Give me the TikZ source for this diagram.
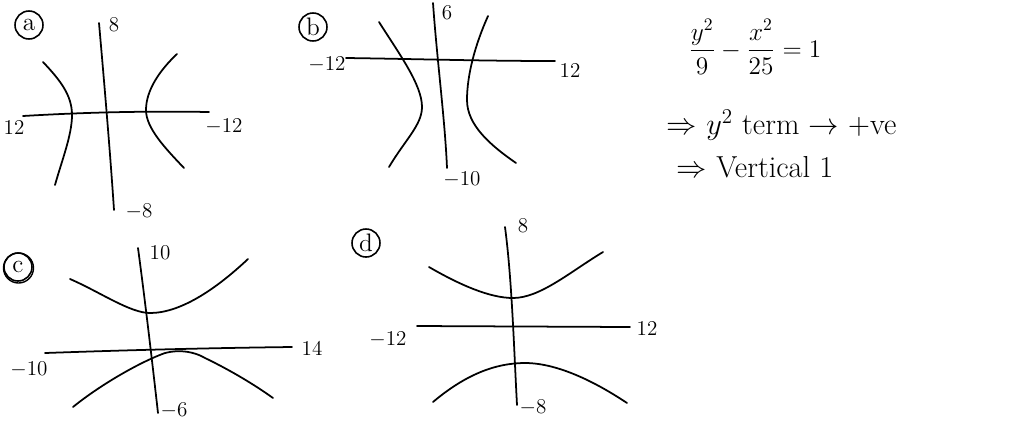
\documentclass[tikz,border=0pt]{standalone}
\usepackage{amsmath}
\tikzset{
  sketch/.style={line width=1pt, line cap=round, line join=round},
  tag/.style={draw, circle, line width=0.9pt, minimum size=0.56cm, inner sep=0pt, font=\Large},
  lbl/.style={font=\large, inner sep=1pt},
}
\begin{document}
\begin{tikzpicture}[x=0.02cm, y=-0.02cm, sketch]
      \useasboundingbox (0,0) rectangle (1024,424);

      \node[tag] (taga) at (29,25) {a};
      \node[lbl] (a8) at (114,25) {8};
      \node[lbl] (am8) at (139,211) {$-$8};
      \node[lbl] (a12) at (14,127) {12};
      \node[lbl] (am12) at (224,126) {$-$12};
      \draw (99,23) .. controls (104,80) and (110,150) .. (114,210);
      \draw (23,116) .. controls (90,112) and (150,111) .. (209,112);
      \draw (43,62) .. controls (60,80) and (72,95) .. (72,115) .. controls (72,135) and (62,160) .. (55,185);
      \draw (177,54) .. controls (160,70) and (146,90) .. (146,110) .. controls (146,128) and (165,148) .. (184,168);

      \node[tag] (tagb) at (313,27) {b};
      \node[lbl] (b6) at (447,13) {6};
      \node[lbl] (bm10) at (462,179) {$-$10};
      \node[lbl] (bm12) at (327,64) {$-$12};
      \node[lbl] (b12) at (570,70) {12};
      \draw (433,3) .. controls (437,60) and (445,120) .. (447,168);
      \draw (346,58) .. controls (420,59) and (480,61) .. (555,61);
      \draw (379,22) .. controls (400,55) and (422,85) .. (422,107) .. controls (422,125) and (405,140) .. (389,167);
      \draw (488,16) .. controls (475,45) and (467,75) .. (467,100) .. controls (467,125) and (490,145) .. (516,163);

      \node[anchor=west, font=\Large] (eqn) at (682,47) {$\dfrac{y^2}{9}-\dfrac{x^2}{25}=1$};
      \node[anchor=west, font=\LARGE] (step1) at (660,125) {$\Rightarrow$ $y^2$ term $\rightarrow$ +ve};
      \node[anchor=west, font=\LARGE] (step2) at (670,167) {$\Rightarrow$ Vertical 1};

      \node[tag] (tagc) at (18,267) {c};
      \draw[line width=0.8pt] (18.5,268) circle (0.3cm);
      \node[lbl] (c10) at (160,253) {10};
      \node[lbl] (cm6) at (174,410) {$-$6};
      \node[lbl] (c14) at (312,348) {14};
      \node[lbl] (cm10) at (29,369) {$-$10};
      \draw (138,248) .. controls (145,300) and (152,360) .. (158,413);
      \draw (45,353) .. controls (130,350) and (210,348) .. (292,347);
      \draw (70,279) .. controls (100,292) and (130,313) .. (150,313) .. controls (180,313) and (215,290) .. (248,259);
      \draw (73,407) .. controls (100,385) and (140,362) .. (165,353) .. controls (180,349) and (195,352) .. (205,358) .. controls (230,370) and (255,385) .. (273,398);

      \node[tag] (tagd) at (366,243) {d};
      \node[lbl] (d8) at (523,226) {8};
      \node[lbl] (dm8) at (533,407) {$-$8};
      \node[lbl] (dm12) at (388,339) {$-$12};
      \node[lbl] (d12) at (647,328) {12};
      \draw (505,227) .. controls (512,280) and (514,350) .. (517,405);
      \draw (417,326) -- (630,327);
      \draw (429,267) .. controls (460,285) and (490,298) .. (513,298) .. controls (540,298) and (570,272) .. (603,252);
      \draw (433,402) .. controls (465,375) and (495,363) .. (525,363) .. controls (560,363) and (600,385) .. (627,403);
\end{tikzpicture}
\end{document}
